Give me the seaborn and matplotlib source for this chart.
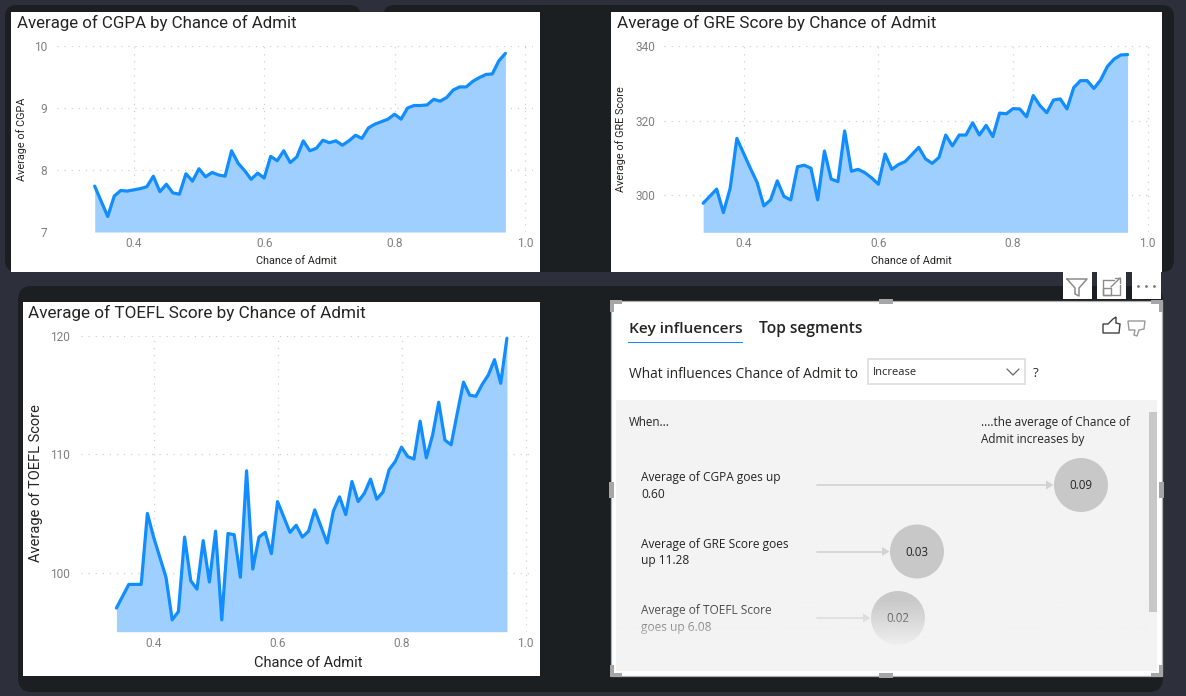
import numpy as np
import pandas as pd
import matplotlib
matplotlib.use("Agg")
import matplotlib.pyplot as plt
from matplotlib.patches import FancyBboxPatch, Rectangle, Circle, Polygon
import seaborn as sns

chance = [0.34] + [round(0.36 + 0.01 * i, 2) for i in range(62)]
cgpa = [7.74, 7.25, 7.58, 7.67, 7.66, 7.68, 7.70, 7.73, 7.90, 7.65, 7.77, 7.63, 7.61, 7.94, 7.82, 8.02, 7.89, 7.96,
        7.92, 7.90, 8.31, 8.11, 7.99, 7.85, 7.95, 7.87, 8.22, 8.15, 8.31, 8.12, 8.21, 8.47, 8.31, 8.35, 8.48, 8.44,
        8.47, 8.40, 8.47, 8.56, 8.51, 8.68, 8.74, 8.78, 8.82, 8.90, 8.82, 9.00, 9.04, 9.04, 9.05, 9.14, 9.11, 9.17,
        9.29, 9.34, 9.34, 9.43, 9.49, 9.54, 9.55, 9.76, 9.88]
gre = [297.8, 301.6, 295.3, 301.8, 315.2, 311.2, 307.2, 303.4, 297.1, 298.7, 303.8, 299.6, 298.7, 307.6, 308.0, 307.2,
       298.7, 311.8, 304.3, 303.6, 317.2, 306.4, 306.9, 306.0, 304.6, 302.9, 311.0, 306.9, 308.2, 309.0, 310.9, 312.8,
       309.7, 308.5, 310.1, 316.1, 313.2, 316.1, 316.1, 319.4, 316.1, 318.7, 315.7, 322.0, 321.8, 323.2, 323.1, 321.0,
       326.7, 324.0, 322.1, 325.5, 325.8, 323.1, 328.8, 330.7, 330.7, 328.6, 330.9, 334.5, 336.5, 337.6, 337.7]
toefl = [97.0, 99.0, 99.0, 99.0, 105.0, 103.0, 101.3, 99.6, 96.0, 96.7, 103.0, 99.3, 98.6, 102.7, 99.2, 103.5, 96.0,
         103.3, 103.2, 99.6, 108.6, 100.3, 103.0, 103.4, 101.6, 106.0, 104.7, 103.4, 104.0, 103.0, 103.5, 105.3, 103.9,
         102.5, 105.2, 106.4, 104.9, 107.7, 106.0, 106.7, 107.9, 106.2, 106.8, 108.7, 109.4, 110.6, 109.8, 109.6, 112.8,
         109.7, 111.6, 114.4, 111.2, 110.8, 113.5, 116.1, 115.0, 114.9, 115.9, 116.7, 118.0, 116.0, 119.8]
x_ticks = [0.4, 0.6, 0.8, 1.0]
x_tick_labels = ["0.4", "0.6", "0.8", "1.0"]
cgpa_ticks = [7, 8, 9, 10]
gre_ticks = [300, 320, 340]
toefl_ticks = [100, 110, 120]
influencers = ["Average of CGPA goes up\n0.60", "Average of GRE Score goes\nup 11.28", "Average of TOEFL Score\ngoes up 6.08"]
influence_values = ["0.09", "0.03", "0.02"]

W, H = 1186, 696
sns.set_theme(style="white")
DIN = ["Roboto", "DejaVu Sans"]
UI = ["Open Sans", "DejaVu Sans"]
plt.rcParams["font.family"] = DIN

LINE = "#118DFF"
FILL = "#9FCFFE"
DARK = "#1B1F22"
LIGHT = "#2D303A"
TICK = "#808080"
INK = "#252423"

fig = plt.figure(figsize=(W / 100, H / 100), dpi=100, facecolor=LIGHT)
bg = fig.add_axes([0, 0, 1, 1], zorder=0)
bg.set_xlim(0, W)
bg.set_ylim(H, 0)
bg.axis("off")


def rbox(x0, y0, x1, y1, color, r=12, z=1):
    bg.add_patch(FancyBboxPatch((x0 + r, y0 + r), x1 - x0 - 2 * r, y1 - y0 - 2 * r,
                                boxstyle=f"round,pad={r},rounding_size={r}", fc=color, ec="none", zorder=z))


def rect(x0, y0, x1, y1, color, z=2, ec="none", lw=0):
    bg.add_patch(Rectangle((x0, y0), x1 - x0, y1 - y0, fc=color, ec=ec, lw=lw, zorder=z))


rbox(5, 5, 361, 272, DARK)
rbox(383, 5, 1174, 272, DARK)
rbox(18, 286, 1163, 692, DARK, r=14, z=1.3)
rect(11, 12, 540, 272, "white")
rect(611, 12, 1162, 272, "white")
rect(22.5, 302, 539.5, 676, "white")
rect(611, 301, 1162, 676, "white")


def chart(vals, ticks, box, x_cal, ylim, title, title_xy, title_fs, ylabel, ylabel_xy, lab_fs, xlabel_xy, tick_fs, ypad):
    left, right, top, bottom = box
    ax = fig.add_axes([left / W, 1 - bottom / H, (right - left) / W, (bottom - top) / H], zorder=1)
    ax.patch.set_alpha(0)
    px04, px10 = x_cal
    per = 0.6 / (px10 - px04)
    ax.set_xlim(0.4 - (px04 - left) * per, 1.0 + (right - px10) * per)
    ax.set_ylim(*ylim)
    df = pd.DataFrame({"Chance of Admit": chance, "value": vals})
    ax.fill_between(df["Chance of Admit"], ylim[0], df["value"], color=FILL, lw=0, zorder=2)
    sns.lineplot(data=df, x="Chance of Admit", y="value", ax=ax, color=LINE, linewidth=2.3, zorder=3,
                 solid_joinstyle="round", solid_capstyle="round", clip_on=False)
    ax.set_xticks(x_ticks, x_tick_labels)
    ax.set_yticks(ticks, [str(t) for t in ticks])
    ax.grid(True, color="#CDCDCD", linestyle=(0, (1, 5)), linewidth=0.85, zorder=1)
    ax.set_axisbelow(True)
    sns.despine(ax=ax, left=True, bottom=True, top=True, right=True)
    ax.tick_params(axis="x", length=0, pad=3.5, labelsize=tick_fs, labelcolor=TICK)
    ax.tick_params(axis="y", length=0, pad=ypad, labelsize=tick_fs, labelcolor=TICK)
    ax.set_xlabel("")
    ax.set_ylabel("")
    bg.text(*title_xy, title, fontsize=title_fs, color=INK, va="center", ha="left", zorder=5)
    bg.text(*ylabel_xy, ylabel, fontsize=lab_fs, color=INK, va="center", ha="center", rotation=90, zorder=5)
    bg.text(*xlabel_xy, "Chance of Admit", fontsize=lab_fs, color=INK, va="center", ha="center", zorder=5)
    return ax


chart(cgpa, cgpa_ticks, (57, 533, 46, 232), (133.8, 524.9), (7, 10),
      "Average of CGPA by Chance of Admit", (17, 22.5), 12.2, "Average of CGPA", (21.5, 139), 7.8, (296, 261), 8.6, 7)
chart(gre, gre_ticks, (664, 1152.6, 46, 232.3), (743.6, 1147.8), (290, 340),
      "Average of GRE Score by Chance of Admit", (617, 22.5), 12.3, "Average of GRE Score", (621, 139), 7.8, (911, 261), 8.6, 6)
chart(toefl, toefl_ticks, (81, 530.6, 336, 631.7), (153.6, 525.5), (95, 120),
      "Average of TOEFL Score by Chance of Admit", (28, 312.5), 12.3, "Average of TOEFL Score", (36, 483), 10.5, (308, 663), 8.6, 8)

# Key influencers panel
T = dict(family=UI, zorder=6)
bg.text(629, 333, "Key influencers", fontsize=11.1, fontweight="semibold", color=INK, va="baseline", **T)
bg.text(759, 333, "Top segments", fontsize=11.2, fontweight="semibold", color=INK, va="baseline", **T)
rect(628, 341.5, 743, 343, LINE, z=6)
bg.text(629, 374, "What influences Chance of Admit to", fontsize=9.95, color=INK, va="center", **T)
rect(867.5, 358.5, 1025, 384, "white", z=6, ec="#DDDDDD", lw=1.2)
bg.text(873, 372.5, "Increase", fontsize=8.0, color=INK, va="center", **T)
bg.plot([1007, 1013, 1019], [369, 375, 369], color="#666666", lw=0.9, zorder=7)
bg.text(1036, 373.5, "?", fontsize=9.5, color=INK, ha="center", va="center", **T)
rect(616, 400, 1157, 671, "#F3F3F3", z=3)
rect(1149, 412, 1157, 612, "#C8C8C8", z=4)
bg.text(629, 423, "When...", fontsize=8.4, color=INK, va="center", **T)
bg.text(981, 431, "....the average of Chance of\nAdmit increases by", fontsize=8.5, color=INK, va="center",
        linespacing=1.35, **T)
row_y = [485, 551.5, 618]
circle_x = [1081, 917, 898]
for label, val, y, cx in zip(influencers, influence_values, row_y, circle_x):
    bg.text(641, y + 1, label, fontsize=8.6, color=INK, va="center", linespacing=1.38, **T)
    bg.plot([817, cx - 34], [y, y], color="#D2D2D2", lw=1.2, zorder=4)
    bg.add_patch(Polygon([(cx - 35, y - 4.5), (cx - 27.5, y), (cx - 35, y + 4.5)], fc="#D2D2D2", ec="none", zorder=4))
    bg.add_patch(Circle((cx, y), 27, fc="#C8C8C8", ec="none", zorder=4))
    bg.text(cx, y + 0.5, val, fontsize=8.3, color=INK, ha="center", va="center", **T)
alpha = np.linspace(0, 1, 64) ** 1.1 * 0.95
grad = np.zeros((64, 1, 4))
grad[..., :3] = 0xF3 / 255
grad[..., 3] = alpha[:, None]
bg.imshow(grad, extent=(617, 1148, 647, 597), aspect="auto", zorder=8)
bg.set_xlim(0, W)
bg.set_ylim(H, 0)

# corner and edge handles
G = "#A6A6A6"
x0, x1, y0, y1 = 611, 1162, 301, 676
bg.plot([x0, x1, x1, x0, x0], [y0, y0, y1, y1, y0], color="#B0B0B0", lw=0.9, zorder=8)
for cx, sx in [(x0, 1), (x1, -1)]:
    for cy, sy in [(y0, 1), (y1, -1)]:
        bg.add_patch(Polygon([(cx - sx, cy - sy), (cx + 11 * sx, cy - sy), (cx + 11 * sx, cy + 3 * sy), (cx + 3 * sx, cy + 3 * sy),
                              (cx + 3 * sx, cy + 11 * sy), (cx - sx, cy + 11 * sy)], fc=G, ec="none", zorder=9))
rect(879, y0 - 2, 893, y0 + 3, G, z=9)
rect(879, y1 - 3, 893, y1 + 2, G, z=9)
rect(x0 - 2, 482, x0 + 3, 498, G, z=9)
rect(x1 - 3, 482, x1 + 2, 498, G, z=9)

# header icons
for a, b in [(1063, 1092), (1097, 1126), (1132, 1161)]:
    rect(a, 272, b, 299, "white", z=6)
I = "#8C8C8C"
bg.plot([1067, 1087, 1079, 1079, 1075, 1075, 1067], [279, 279, 288, 296, 294, 288, 279], color=I, lw=1.1, zorder=7)
bg.plot([1103, 1114], [280, 280], color=I, lw=1.0, zorder=7)
bg.plot([1120, 1120, 1103, 1103], [285, 295, 295, 280], color=I, lw=1.0, zorder=7)
rect(1103, 288, 1111, 295, "none", z=7, ec=I, lw=1.0)
bg.plot([1111, 1120], [287, 278], color=I, lw=1.0, zorder=7)
bg.plot([1115, 1120, 1120], [278, 278, 283], color=I, lw=1.0, zorder=7)
bg.scatter([1138, 1146, 1154], [286, 286, 286], s=4, color="#777777", zorder=7, linewidths=0)
up = [(1103, 324), (1108, 324), (1113, 319), (1116, 317), (1116, 323), (1120, 324), (1119, 333), (1108, 333), (1103, 333)]
bg.add_patch(Polygon(up, fc="white", ec="#404040", lw=1.0, zorder=7))
down = [(1128, 321), (1145, 321), (1144, 329), (1139, 330), (1137, 336), (1134, 335), (1135, 330), (1129, 330)]
bg.add_patch(Polygon(down, fc="white", ec="#9A9A9A", lw=1.0, zorder=7))

fig.savefig("out.png", dpi=100, facecolor=fig.get_facecolor())
